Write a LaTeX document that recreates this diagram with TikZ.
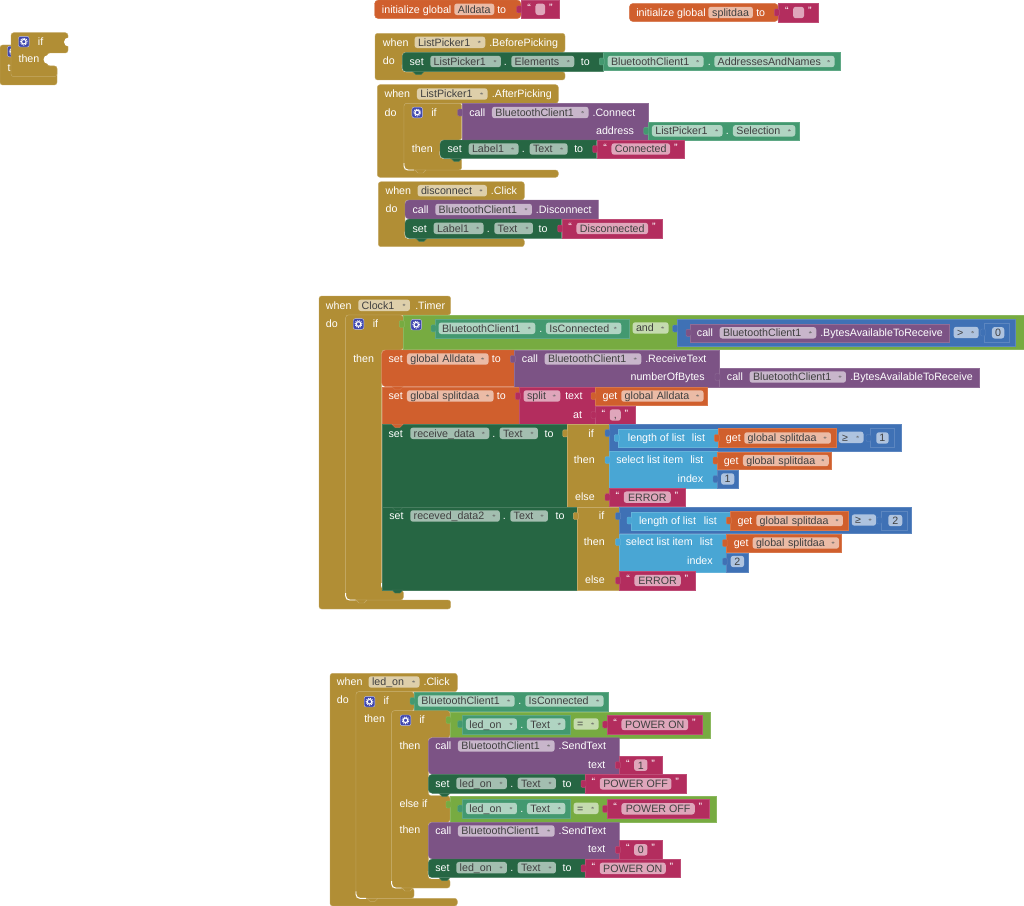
\documentclass[tikz,border=0pt]{standalone}
\usepackage{fontspec}
\setmainfont{Liberation Sans}
\definecolor{ctlgold}{HTML}{B18E35}
\definecolor{varorange}{HTML}{D05F2D}
\definecolor{callpurple}{HTML}{7C5385}
\definecolor{getteal}{HTML}{439970}
\definecolor{setgreen}{HTML}{266643}
\definecolor{strpink}{HTML}{B32D5E}
\definecolor{logicgreen}{HTML}{77AB41}
\definecolor{mathblue}{HTML}{3F71B5}
\definecolor{listblue}{HTML}{49A6D4}
\definecolor{gearblue}{HTML}{3F47AE}
\tikzset{
  go/.style={fill=ctlgold,draw=ctlgold!75!white,line width=.3pt},
  og/.style={fill=varorange,draw=varorange!85!white,line width=.3pt},
  pu/.style={fill=callpurple,draw=callpurple!85!white,line width=.3pt},
  te/.style={fill=getteal,draw=getteal!85!white,line width=.3pt},
  sg/.style={fill=setgreen,draw=setgreen!85!white,line width=.3pt},
  pk/.style={fill=strpink,draw=strpink!85!white,line width=.3pt},
  lg/.style={fill=logicgreen,draw=logicgreen!85!white,line width=.3pt},
  mb/.style={fill=mathblue,draw=mathblue!85!white,line width=.3pt},
  lb/.style={fill=listblue,draw=listblue!85!white,line width=.3pt},
  lab/.style={anchor=west,inner sep=0,text=white,font=\fontsize{8}{9.6}\selectfont,
              text height=6.65pt,text depth=.95pt},
  labr/.style={lab,anchor=east},
  pill/.style={anchor=west,rounded corners=2pt,fill=white,fill opacity=.58,text opacity=1,
               text=black!75,font=\fontsize{8}{9.6}\selectfont,inner xsep=0,inner ysep=.5pt,
               text height=6.65pt,text depth=.95pt,minimum width=(#1)*.75pt,align=center},
  fld/.style={anchor=west,rounded corners=2pt,fill=white,fill opacity=.58,text opacity=1,
              text=black!75,font=\fontsize{8}{9.6}\selectfont,inner xsep=2.6pt,inner ysep=.5pt,
              text height=6.65pt,text depth=.95pt,text width=(#1)*.75pt-5.2pt,align=left,
              path picture={\fill[black!60,fill opacity=.8]
                ([xshift=-6pt,yshift=1pt]path picture bounding box.east)
                -- ++(3pt,0) -- ++(-1.5pt,-2pt) -- cycle;}},
  qt/.style={inner sep=0,text=white,font=\fontsize{8}{9}\selectfont},
  gear/.style={anchor=west,inner sep=0,minimum size=8pt,rounded corners=1.5pt,fill=gearblue,
               draw=white!70!gearblue,line width=.3pt,
               path picture={
                 \draw[white,line width=.8pt] (path picture bounding box.center) circle (1.7pt);
                 \draw[white,line width=.7pt,dash pattern=on .7pt off .75pt]
                   (path picture bounding box.center) circle (2.6pt);}}
}
\newcommand\puz[3]{\fill[#1,rounded corners=.8pt] (#2-4,#3-3.5) rectangle (#2+1,#3+3.5);}
\newcommand\nub[3]{\path[#1] (#2,#3) -- (#2+3,#3+3) -- (#2+8,#3+3) -- (#2+11,#3) -- cycle;}
\newcommand\stm[5]{\path[#1] (#4,#3) [rounded corners=3pt] -- (#2,#3) -- (#2,#5) [sharp corners] -- (#4,#5) -- cycle;}
\newcommand\crv[2]{\draw[white,line width=.7pt,rounded corners=3pt] (#1,#2-7) -- (#1,#2) -- (#1+10,#2);}
\newcommand\strb[5]{\path[pk] (#2,#4-9.3) rectangle (#3,#4+9.3); \puz{pk}{#2}{#4}
  \node[qt] (#1l) at (#2+8.5,#4-1.5) {“}; \node[qt] (#1r) at (#3-8.5,#4-1.5) {”};
  \node[pill={#3-#2-29}] (#1) at (#2+14.5,#4) {#5};}
\begin{document}
\begin{tikzpicture}[x=.75pt,y=-.75pt]
  \useasboundingbox (0,0) rectangle (1024,906);
  % loose if blocks, top left
  \path[go,rounded corners=2pt] (0,45) -- (47,45) -- (47,66) -- (57,66) -- (57,85) -- (0,85) -- cycle;
  \node[gear] (gb) at (7.3,51.5) {};
  \node[lab] (tb) at (7.3,68) {then};
  \path[go,rounded corners=2pt] (11,32.7) -- (68,32.7) -- (68,53) -- (47,53) -- (47,66)
    -- (57,66) -- (57,76.7) -- (11,76.7) -- cycle;
  \fill[white] (68.5,42) circle (4.5);
  \fill[white] (48,59.5) circle (4.5);
  \node[gear] (gf) at (18.3,41.7) {};
  \node[lab] (i0) at (37.7,41.7) {if};
  \node[lab] (t0) at (18.3,58.3) {then};
  % globals
  \path[og,rounded corners=3pt] (374.5,0) rectangle (521,18.7);
  \node[lab] (ini1) at (381.7,9.3) {initialize global};
  \node[pill=40] (ad) at (454,9.3) {Alldata};
  \node[lab] (to1) at (497,9.3) {to};
  \strb{s1}{520.7}{559.3}{9.3}{}
  \path[og,rounded corners=3pt] (629.3,3.3) rectangle (778.3,21.7);
  \node[lab] (ini2) at (636,12.5) {initialize global};
  \node[pill=44.7] (sp) at (708,12.5) {splitdaa};
  \node[lab] (to2) at (756,12.5) {to};
  \strb{s2}{778.3}{818.3}{12.5}{}
  % before picking
  \path[go,rounded corners=2pt] (375,33.3) -- (565,33.3) -- (565,52.3) -- (402.3,52.3)
    -- (402.3,71.7) -- (565,71.7) -- (565,80) -- (375,80) -- cycle;
  \node[lab] (w1) at (382.7,42.3) {when};
  \node[fld=70.7] (f1) at (414.3,42.3) {ListPicker1};
  \node[lab] (e1) at (489,42.3) {.BeforePicking};
  \node[lab] (d1) at (382.7,60.7) {do};
  \crv{402.3}{71.7}
  \stm{sg}{402.3}{52.3}{603.3}{71.7}
  \nub{sg}{413}{71.7}
  \node[lab] (s1a) at (409.3,61.5) {set};
  \node[fld=70.7] (f2) at (430,61.5) {ListPicker1};
  \node[lab] (p1) at (503.5,61.5) {.};
  \node[fld=63] (f3) at (511,61.5) {Elements};
  \node[lab] (t1) at (580.7,61.5) {to};
  \path[te] (603.3,52.3) rectangle (840,70.7);
  \puz{te}{603.3}{61.5}
  \node[fld=96] (f4) at (607.3,61.5) {BluetoothClient1};
  \node[lab] (p2) at (707.5,61.5) {.};
  \node[fld=120.3] (f5) at (714,61.5) {AddressesAndNames};
  % after picking
  \path[go,rounded corners=2pt] (377.3,84.7) -- (558.3,84.7) -- (558.3,103.3) -- (404,103.3)
    -- (404,170) -- (558.3,170) -- (558.3,177.3) -- (377.3,177.3) -- cycle;
  \node[lab] (w2) at (384.3,94) {when};
  \node[fld=70.6] (f6) at (416.7,94) {ListPicker1};
  \node[lab] (e2) at (491.7,94) {.AfterPicking};
  \node[lab] (d2) at (384.3,112.3) {do};
  \path[go,rounded corners=2pt] (404,103.3) -- (461.7,103.3) -- (461.7,140) -- (440,140)
    -- (440,158.3) -- (461.7,158.3) -- (461.7,170) -- (404,170) -- cycle;
  \crv{404}{170}
  \nub{go}{415}{170}
  \node[gear] (g2) at (411.7,112.5) {};
  \node[lab] (i2) at (431,112.5) {if};
  \node[lab] (t2) at (411.7,148.3) {then};
  \path[pu] (461.7,103.3) rectangle (647.7,140);
  \puz{pu}{461.7}{112.5}
  \node[lab] (c2) at (469,112.5) {call};
  \node[fld=96.6] (f7) at (491.7,112.5) {BluetoothClient1};
  \node[lab] (m2) at (592.3,112.5) {.Connect};
  \node[labr] (a2) at (634.3,130.3) {address};
  \path[te] (647.7,121.7) rectangle (799.3,140);
  \puz{te}{647.7}{130.8}
  \node[fld=70.6] (f8) at (651.7,130.8) {ListPicker1};
  \node[lab] (p3) at (725.5,130.8) {.};
  \node[fld=62.3] (f9) at (732.7,130.8) {Selection};
  \crv{440}{158.3}
  \stm{sg}{440}{140}{596.7}{158.3}
  \nub{sg}{451}{158.3}
  \node[lab] (s2) at (447.3,149) {set};
  \node[fld=50] (f10) at (468.3,149) {Label1};
  \node[lab] (p4) at (521.5,149) {.};
  \node[fld=38] (f11) at (529.3,149) {Text};
  \node[lab] (t3) at (574,149) {to};
  \strb{s3}{596.7}{684.3}{149}{Connected}
  % disconnect
  \path[go,rounded corners=2pt] (378.3,181.7) -- (524.3,181.7) -- (524.3,200) -- (405,200)
    -- (405,238.5) -- (524.3,238.5) -- (524.3,246.7) -- (378.3,246.7) -- cycle;
  \node[lab] (w3) at (385.3,190.7) {when};
  \node[fld=69.4] (f12) at (417.3,190.7) {disconnect};
  \node[lab] (e3) at (490.7,190.7) {.Click};
  \node[lab] (d3) at (385.3,209) {do};
  \stm{pu}{405}{200}{598.3}{219}
  \node[lab] (c3) at (412.3,209.5) {call};
  \node[fld=96.7] (f13) at (435,209.5) {BluetoothClient1};
  \node[lab] (m3) at (535.7,209.5) {.Disconnect};
  \crv{405}{238.5}
  \stm{sg}{405}{219}{561.7}{238.3}
  \nub{sg}{416}{238.3}
  \node[lab] (s3a) at (412.3,228.3) {set};
  \node[fld=50] (f14) at (433.3,228.3) {Label1};
  \node[lab] (p5) at (486.5,228.3) {.};
  \node[fld=38.7] (f15) at (494,228.3) {Text};
  \node[lab] (t4) at (538.3,228.3) {to};
  \strb{s4}{561.7}{662.3}{228.5}{Disconnected}
  % clock timer
  \path[go,rounded corners=2pt] (319,296) -- (450.7,296) -- (450.7,315) -- (345.7,315)
    -- (345.7,600) -- (450.7,600) -- (450.7,609) -- (319,609) -- cycle;
  \node[lab] (w4) at (325.7,305.3) {when};
  \node[fld=51.7] (f16) at (358,305.3) {Clock1};
  \node[lab] (e4) at (415,305.3) {.Timer};
  \node[lab] (d4) at (325.7,323.7) {do};
  \path[go,rounded corners=2pt] (345.7,315) -- (403.3,315) -- (403.3,350) -- (381.7,350)
    -- (381.7,590) -- (403.3,590) -- (403.3,600) -- (345.7,600) -- cycle;
  \crv{345.7}{600}
  \crv{381.7}{590}
  \nub{go}{356}{600}
  \node[gear] (g4) at (353,324) {};
  \node[lab] (i4) at (372.5,323.7) {if};
  \node[lab] (t5) at (353,358.3) {then};
  \path[lg] (403.3,315) rectangle (1024,349.5);
  \puz{lg}{403.3}{324}
  \node[gear] (g5) at (410.7,324.7) {};
  \path[te] (435,319.3) rectangle (629,337.7);
  \puz{te}{435}{328.3}
  \node[fld=96.7] (f17) at (438.3,328.3) {BluetoothClient1};
  \node[lab] (p6) at (539,328.3) {.};
  \node[fld=75.3] (f18) at (545.7,328.3) {IsConnected};
  \node[fld=36] (f19) at (632.3,328) {and};
  \path[mb] (676.7,319.3) rectangle (1015,346);
  \puz{mb}{676.7}{328.5}
  \path[pu] (690,324) rectangle (949.3,341.7);
  \puz{pu}{690}{332.8}
  \node[lab] (c4) at (696.7,332.8) {call};
  \node[fld=96.7] (f20) at (719.3,332.8) {BluetoothClient1};
  \node[lab] (m4) at (820,332.8) {.BytesAvailableToReceive};
  \node[fld=25] (f21) at (953.3,332.5) {>};
  \path[mb] (984.5,323.3) rectangle (1009.5,341.7);
  \puz{mb}{984.5}{332.5}
  \node[pill=12.3] (n0) at (991.7,332.8) {0};
  % set global Alldata
  \stm{og}{381.7}{350}{514.3}{386.7}
  \node[lab] (s5) at (388.3,359) {set};
  \node[fld=81.6] (f22) at (406.7,359) {global Alldata};
  \node[lab] (t6) at (491.7,359) {to};
  \path[pu] (514.3,350) rectangle (719,386.7);
  \puz{pu}{514.3}{359}
  \node[lab] (c5) at (521.7,359) {call};
  \node[fld=96.7] (f23) at (544.3,359) {BluetoothClient1};
  \node[lab] (m5) at (645,359) {.ReceiveText};
  \node[labr] (a5) at (705,377) {numberOfBytes};
  \path[pu] (719,367.7) rectangle (979.3,386.7);
  \puz{pu}{719}{377}
  \node[lab] (c6) at (726.7,377) {call};
  \node[fld=96.4] (f24) at (749.3,377) {BluetoothClient1};
  \node[lab] (m6) at (850,377) {.BytesAvailableToReceive};
  % set global splitdaa
  \path[og] (381.7,386.7) rectangle (519.3,424.3);
  \nub{og}{392}{386.7}
  \node[lab] (s6) at (388.3,396) {set};
  \node[fld=86.6] (f25) at (406.7,396) {global splitdaa};
  \node[lab] (t7) at (496.7,396) {to};
  \path[pk] (519.3,386.7) rectangle (595,424.3);
  \puz{pk}{519.3}{396}
  \node[fld=36.7] (f26) at (523.3,396) {split};
  \node[lab] (tx) at (565,396) {text};
  \node[labr] (at1) at (582.3,415) {at};
  \path[og] (595,386.7) rectangle (707.3,405);
  \puz{og}{595}{396}
  \node[lab] (g6) at (602.3,396) {get};
  \node[fld=82.3] (f27) at (621,396) {global Alldata};
  \strb{s5b}{595}{635}{415}{,}
  % receive_data
  \path[sg] (381.7,424.3) rectangle (566.7,507.3);
  \nub{og}{392}{424.3}
  \node[lab] (s7) at (388.3,433.3) {set};
  \node[fld=79] (f28) at (410,433.3) {receive\_data};
  \node[lab] (p7) at (492,433.3) {.};
  \node[fld=38.4] (f29) at (499.3,433.3) {Text};
  \node[lab] (t8) at (544.3,433.3) {to};
  \path[go] (566.7,424.3) rectangle (609,507.3);
  \puz{go}{566.7}{433.3}
  \node[labr] (i7) at (594,433.3) {if};
  \node[labr] (t9) at (595,460) {then};
  \node[labr] (l7) at (595,497) {else};
  \path[mb] (609,424.3) rectangle (901,450.7);
  \puz{mb}{609}{433}
  \path[lb] (618.3,429) rectangle (718.3,447.3);
  \puz{lb}{618.3}{438}
  \node[lab] (ll1) at (627.7,438) {length of list};
  \node[lab] (ll2) at (691.7,438) {list};
  \path[og] (718.3,428.3) rectangle (835.7,447.3);
  \puz{og}{718.3}{438}
  \node[lab] (g7) at (725.7,438) {get};
  \node[fld=86.7] (f30) at (744,438) {global splitdaa};
  \node[fld=25] (f31) at (838.3,437.3) {≥};
  \path[mb] (870,428.5) rectangle (894,447);
  \puz{mb}{870}{438}
  \node[pill=12.3] (n1) at (876,438) {1};
  \path[lb] (609,450.7) rectangle (717,488.3);
  \puz{lb}{609}{460}
  \node[lab] (sl1) at (616,460) {select list item};
  \node[lab] (sl2) at (690,460) {list};
  \node[labr] (ix1) at (703.5,478.3) {index};
  \path[og] (717,451.7) rectangle (831.5,469.3);
  \puz{og}{717}{460.5}
  \node[lab] (g8) at (723.5,460.5) {get};
  \node[fld=85.8] (f32) at (742.7,460.5) {global splitdaa};
  \path[mb] (717,470) rectangle (738,488.3);
  \puz{mb}{717}{479}
  \node[pill=13.2] (n2) at (720.8,479) {1};
  \strb{s7b}{609}{685}{497.2}{ERROR}
  % receved_data2
  \path[sg] (382,507.3) rectangle (577.3,590);
  \nub{sg}{392}{507.3}
  \node[lab] (s8) at (389,516) {set};
  \node[fld=89.6] (f33) at (410,516) {receved\_data2};
  \node[lab] (p8) at (502.5,516) {.};
  \node[fld=37.7] (f34) at (510,516) {Text};
  \node[lab] (t10) at (555.4,516) {to};
  \nub{sg}{392}{590}
  \path[go] (577.3,507.3) rectangle (619.6,590);
  \puz{go}{577.3}{516}
  \node[labr] (i8) at (604.5,516) {if};
  \node[labr] (t11) at (605,542) {then};
  \node[labr] (l8) at (605,580) {else};
  \path[mb] (619.6,507.3) rectangle (911,533.3);
  \puz{mb}{619.6}{516}
  \path[lb] (631,511.7) rectangle (730.4,530);
  \puz{lb}{631}{520.5}
  \node[lab] (ll3) at (638.8,520.5) {length of list};
  \node[lab] (ll4) at (703.5,520.5) {list};
  \path[og] (730.4,511) rectangle (847.7,530);
  \puz{og}{730.4}{520.5}
  \node[lab] (g9) at (737.3,520.5) {get};
  \node[fld=86.7] (f35) at (756,520.5) {global splitdaa};
  \node[fld=24.3] (f36) at (851.5,520) {≥};
  \path[mb] (881,511) rectangle (907,530);
  \puz{mb}{881}{520.5}
  \node[pill=14] (n3) at (888,520.5) {2};
  \path[lb] (619.6,534) rectangle (726.5,571.7);
  \puz{lb}{619.6}{542}
  \node[lab] (sl3) at (625.5,542) {select list item};
  \node[lab] (sl4) at (699.6,542) {list};
  \node[labr] (ix2) at (713,561) {index};
  \path[og] (726.5,534.3) rectangle (841,552.3);
  \puz{og}{726.5}{543}
  \node[lab] (g10) at (733.5,543) {get};
  \node[fld=86.5] (f37) at (752.3,543) {global splitdaa};
  \path[mb] (726.5,552.7) rectangle (747.7,571.7);
  \puz{mb}{726.5}{561.5}
  \node[pill=13.4] (n4) at (730.4,561.5) {2};
  \strb{s8b}{619.6}{695}{580.5}{ERROR}
  % led_on click
  \path[go,rounded corners=2pt] (330,673.3) -- (457.3,673.3) -- (457.3,691.7) -- (356,691.7)
    -- (356,898.3) -- (457.3,898.3) -- (457.3,906) -- (330,906) -- cycle;
  \node[lab] (w5) at (336.7,682) {when};
  \node[fld=51] (f38) at (368.3,682) {led\_on};
  \node[lab] (e5) at (423.3,682) {.Click};
  \node[lab] (d5) at (336.7,700) {do};
  \path[go,rounded corners=2pt] (356,691.7) -- (414,691.7) -- (414,710.7) -- (391.7,710.7)
    -- (391.7,888) -- (414,888) -- (414,898.3) -- (356,898.3) -- cycle;
  \crv{356}{898.3}
  \nub{go}{367}{898.3}
  \node[gear] (g11) at (364,701.7) {};
  \node[lab] (i5) at (383.3,700.5) {if};
  \node[lab] (t12) at (364,718.7) {then};
  \path[te] (414,692.3) rectangle (607.7,710.7);
  \puz{te}{414}{701}
  \node[fld=96.6] (f39) at (417.7,701) {BluetoothClient1};
  \node[lab] (p9) at (518,701) {.};
  \node[fld=78.3] (f40) at (525,701) {IsConnected};
  \path[go,rounded corners=2pt] (391.7,710.7) -- (450,710.7) -- (450,737.7) -- (428.3,737.7)
    -- (428.3,795.7) -- (450,795.7) -- (450,822.3) -- (428.3,822.3) -- (428.3,879)
    -- (450,879) -- (450,888) -- (391.7,888) -- cycle;
  \crv{391.7}{888}
  \crv{428.3}{878}
  \nub{go}{402}{888}
  \node[gear] (g12) at (400,720.3) {};
  \node[lab] (i6) at (419,719.5) {if};
  \node[lab] (t13) at (399.3,745.3) {then};
  \node[lab] (ei) at (399.3,804) {else if};
  \node[lab] (t14) at (399.3,830) {then};
  % first test
  \path[lg] (450,711.7) rectangle (710,737.7);
  \puz{lg}{450}{720}
  \path[te] (461.7,715) rectangle (570,734);
  \puz{te}{461.7}{724.2}
  \node[fld=51] (f41) at (465.7,724.2) {led\_on};
  \node[lab] (p10) at (520,724.2) {.};
  \node[fld=38.3] (f42) at (526.7,724.2) {Text};
  \node[fld=25] (f43) at (573.3,724) {=};
  \strb{s9}{606.7}{702.3}{724.5}{POWER ON}
  \stm{pu}{428.3}{737.7}{619.3}{774.3}
  \node[lab] (c7) at (435,746) {call};
  \node[fld=96.6] (f44) at (457.7,746) {BluetoothClient1};
  \node[lab] (m7) at (558.3,746) {.SendText};
  \node[labr] (tx1) at (605.7,764.3) {text};
  \strb{s10}{619.3}{661.7}{765.2}{1}
  \stm{sg}{428.3}{774.3}{585}{793.3}
  \nub{sg}{439}{793.3}
  \node[lab] (s9a) at (435,783.3) {set};
  \node[fld=50.7] (f45) at (456,783.3) {led\_on};
  \node[lab] (p11) at (510,783.3) {.};
  \node[fld=38.4] (f46) at (517.3,783.3) {Text};
  \node[lab] (t15) at (562.3,783.3) {to};
  \strb{s11}{585}{685.7}{783.8}{POWER OFF}
  % second test
  \path[lg] (450,796) rectangle (716,822.3);
  \puz{lg}{450}{804.5}
  \path[te] (461.7,799.3) rectangle (570,818.3);
  \puz{te}{461.7}{808.5}
  \node[fld=51] (f47) at (465.7,808.5) {led\_on};
  \node[lab] (p12) at (520,808.5) {.};
  \node[fld=38.3] (f48) at (526.7,808.5) {Text};
  \node[fld=25] (f49) at (573.3,808.3) {=};
  \strb{s12}{606.7}{709}{808.8}{POWER OFF}
  \stm{pu}{428.3}{822.3}{619.3}{859}
  \node[lab] (c8) at (435,831) {call};
  \node[fld=96.6] (f50) at (457.7,831) {BluetoothClient1};
  \node[lab] (m8) at (558.3,831) {.SendText};
  \node[labr] (tx2) at (605.7,849) {text};
  \strb{s13}{619.3}{661.7}{849.8}{0}
  \stm{sg}{428.3}{859}{585}{877.7}
  \nub{sg}{439}{877.7}
  \node[lab] (s10a) at (435,867.7) {set};
  \node[fld=50.7] (f51) at (456,867.7) {led\_on};
  \node[lab] (p13) at (510,867.7) {.};
  \node[fld=38.4] (f52) at (517.3,867.7) {Text};
  \node[lab] (t16) at (562.3,867.7) {to};
  \strb{s14}{585}{680}{868.3}{POWER ON}
\end{tikzpicture}
\end{document}
